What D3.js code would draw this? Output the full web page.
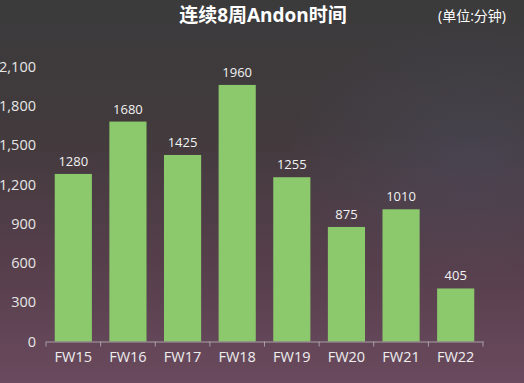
<!DOCTYPE html>
<html><head><meta charset="utf-8">
<script src="https://cdn.jsdelivr.net/npm/d3@7"></script>
<style>
html,body{margin:0;padding:0;background:#3c3c3c;}
svg{display:block;}
text{font-family:"Open Sans","Noto Sans","Noto Sans CJK SC",sans-serif;}
</style></head>
<body><svg id="c" width="524" height="383"></svg>
<script>
const categories = ["FW15","FW16","FW17","FW18","FW19","FW20","FW21","FW22"];
const values = [1280,1680,1425,1960,1255,875,1010,405];
const yTicks = [0,300,600,900,1200,1500,1800,2100];
const title = "连续8周Andon时间";
const unitLabel = "(单位:分钟)";

const W = 524, H = 383;
const svg = d3.select("#c");
const defs = svg.append("defs");
const g1 = defs.append("linearGradient").attr("id","bg").attr("x1",0).attr("y1",0).attr("x2",0).attr("y2",1);
g1.append("stop").attr("offset","0%").attr("stop-color","#3b3b3c");
g1.append("stop").attr("offset","35%").attr("stop-color","#423a3d");
g1.append("stop").attr("offset","70%").attr("stop-color","#573f4c");
g1.append("stop").attr("offset","100%").attr("stop-color","#6a4a5e");
svg.append("rect").attr("width",W).attr("height",H).attr("fill","url(#bg)");
const rg = defs.append("radialGradient").attr("id","glow").attr("cx","0.9").attr("cy","0.4").attr("r","0.35");
rg.append("stop").attr("offset","0%").attr("stop-color","#5a78b0").attr("stop-opacity",0.14);
rg.append("stop").attr("offset","100%").attr("stop-color","#5a78b0").attr("stop-opacity",0);
svg.append("rect").attr("width",W).attr("height",H).attr("fill","url(#glow)");

const margin = {left:46, right:41, top:66.6, bottom:41.5};
const x = d3.scaleBand().domain(categories).range([margin.left, W - margin.right]).paddingInner(0.32).paddingOuter(0.16);
const y = d3.scaleLinear().domain([0,2100]).range([H - margin.bottom, margin.top]);

// y axis labels
const ya = svg.append("g").attr("transform",`translate(${margin.left},0)`)
  .call(d3.axisLeft(y).tickValues(yTicks).tickSize(0).tickPadding(10).tickFormat(d3.format(",")));
ya.select(".domain").remove();
ya.selectAll("text").attr("fill","#e6e6e6").attr("font-size",14.5);

// bars
svg.append("g").selectAll("rect").data(values).join("rect")
  .attr("x",(d,i)=>x(categories[i]))
  .attr("y",d=>y(d))
  .attr("width",x.bandwidth())
  .attr("height",d=>y(0)-y(d))
  .attr("fill","#8cc96d");

// value labels
svg.append("g").selectAll("text").data(values).join("text")
  .attr("x",(d,i)=>x(categories[i])+x.bandwidth()/2)
  .attr("y",d=>y(d)-8)
  .attr("text-anchor","middle")
  .attr("fill","#f2f2f2").attr("font-size",13)
  .text(d=>d);

// x axis
const xa = svg.append("g").attr("transform",`translate(0,${y(0)})`)
  .call(d3.axisBottom(x).tickSize(0).tickPadding(10));
xa.select(".domain").attr("stroke","#a8a0a4").attr("stroke-width",1);
xa.selectAll("text").attr("fill","#eeeeee").attr("font-size",14.5);
// boundary ticks between categories
const step = x.step();
const bounds = d3.range(categories.length+1).map(i => margin.left + i*step);
xa.selectAll("line.b").data(bounds).join("line").attr("class","b")
  .attr("x1",d=>d).attr("x2",d=>d).attr("y1",0).attr("y2",5)
  .attr("stroke","#a8a0a4");

// title
svg.append("text").attr("x",263).attr("y",22).attr("text-anchor","middle")
  .attr("fill","#ffffff").attr("font-size",19).attr("font-weight","bold").text(title);
svg.append("text").attr("x",506).attr("y",21).attr("text-anchor","end")
  .attr("fill","#ffffff").attr("font-size",14).text(unitLabel);
</script></body></html>
